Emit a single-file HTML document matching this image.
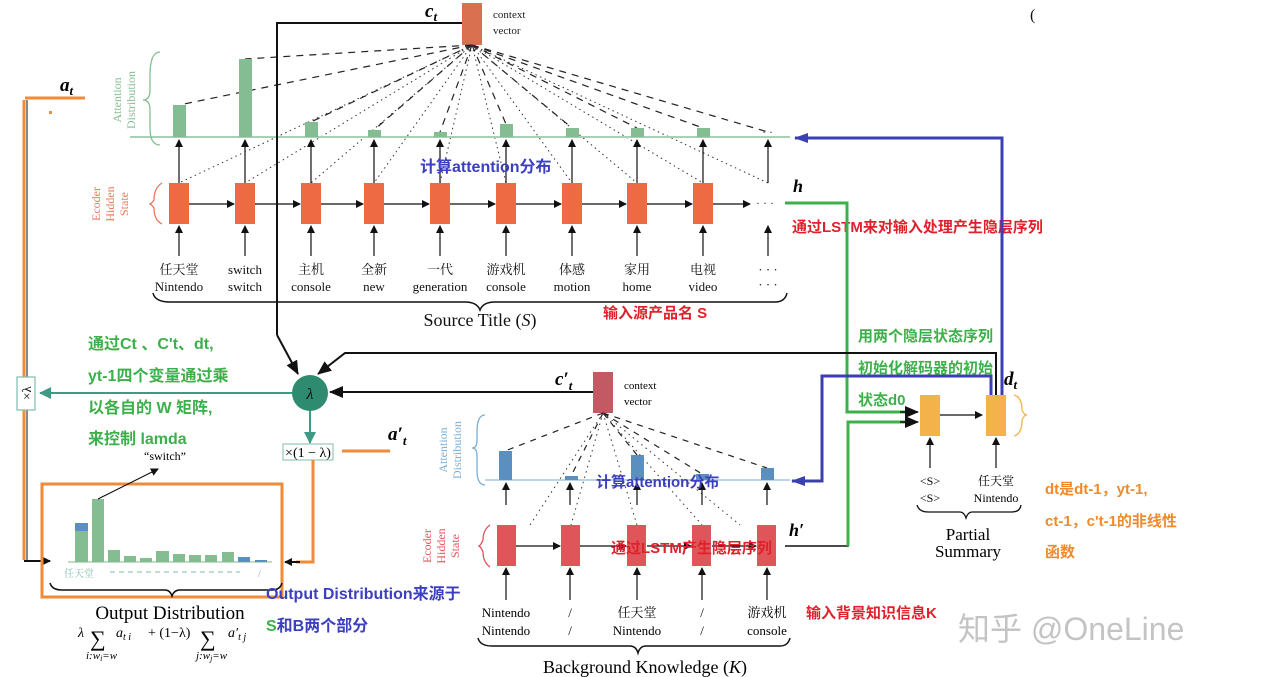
<!DOCTYPE html>
<html><head><meta charset="utf-8"><style>
html,body{margin:0;padding:0;background:#fff;}
svg{display:block;}
.s{font-family:"Liberation Serif","Noto Serif CJK SC",serif;}
.b{font-family:"Liberation Sans","Noto Sans CJK SC",sans-serif;font-weight:bold;}
</style></head><body>
<svg width="1266" height="677" viewBox="0 0 1266 677" xmlns="http://www.w3.org/2000/svg">
<defs>
<marker id="ak" markerWidth="8" markerHeight="8" refX="7" refY="4" orient="auto" markerUnits="userSpaceOnUse"><path d="M0,0 L8,4 L0,8 z" fill="#111"/></marker>
<marker id="at" markerWidth="12" markerHeight="12" refX="11" refY="6" orient="auto" markerUnits="userSpaceOnUse"><path d="M0,0 L12,6 L0,12 z" fill="#3d9a84"/></marker>
<marker id="ab" markerWidth="14" markerHeight="10" refX="13" refY="5" orient="auto" markerUnits="userSpaceOnUse"><path d="M0,0 L14,5 L0,10 z" fill="#3b3fb0"/></marker>
<marker id="ak2" markerWidth="14" markerHeight="12" refX="13" refY="6" orient="auto" markerUnits="userSpaceOnUse"><path d="M0,0 L14,6 L0,12 z" fill="#111"/></marker>
</defs>

<!-- TOP ENCODER -->
<g class="s" font-size="12" fill="#222" text-anchor="middle">
<text x="472" y="18" font-size="11" text-anchor="start" dx="21">context</text>
<text x="472" y="34" font-size="11" text-anchor="start" dx="21">vector</text>
</g>
<text x="425" y="17" class="s" font-size="19" font-style="italic" font-weight="bold">c<tspan font-size="13" dy="4">t</tspan></text>
<rect x="462" y="3" width="20" height="42" fill="#d9704f"/>

<g stroke="#222" stroke-width="1.2" stroke-dasharray="7,6" fill="none">
<line x1="472" y1="45" x2="179" y2="105"/><line x1="472" y1="45" x2="245" y2="59"/>
<line x1="472" y1="45" x2="311" y2="122"/><line x1="472" y1="45" x2="374" y2="130"/>
<line x1="472" y1="45" x2="440" y2="132"/><line x1="472" y1="45" x2="506" y2="124"/>
<line x1="472" y1="45" x2="572" y2="128"/><line x1="472" y1="45" x2="637" y2="128"/>
<line x1="472" y1="45" x2="703" y2="128"/><line x1="472" y1="45" x2="768" y2="132"/>
</g>
<g stroke="#333" stroke-width="1" stroke-dasharray="1.5,3.5" fill="none">
<line x1="472" y1="45" x2="179" y2="183"/><line x1="472" y1="45" x2="245" y2="183"/>
<line x1="472" y1="45" x2="311" y2="183"/><line x1="472" y1="45" x2="374" y2="183"/>
<line x1="472" y1="45" x2="440" y2="183"/><line x1="472" y1="45" x2="506" y2="183"/>
<line x1="472" y1="45" x2="572" y2="183"/><line x1="472" y1="45" x2="637" y2="183"/>
<line x1="472" y1="45" x2="703" y2="183"/><line x1="472" y1="45" x2="768" y2="183"/>
</g>

<line x1="130" y1="137" x2="790" y2="137" stroke="#a9d0b4" stroke-width="2"/>
<g fill="#85bd92">
<rect x="173" y="105" width="13" height="32"/><rect x="239" y="59" width="13" height="78"/>
<rect x="305" y="122" width="13" height="15"/><rect x="368" y="130" width="13" height="7"/>
<rect x="434" y="132" width="13" height="5"/><rect x="500" y="124" width="13" height="13"/>
<rect x="566" y="128" width="13" height="9"/><rect x="631" y="128" width="13" height="9"/>
<rect x="697" y="128" width="13" height="9"/>
</g>
<text x="762" y="136" font-size="12" fill="#333">· ·</text>
<g class="s" font-size="12" fill="#85bd92" text-anchor="middle">
<text transform="translate(121,100) rotate(-90)">Attention</text>
<text transform="translate(135,100) rotate(-90)">Distribution</text>
</g>
<path d="M160,52 Q150,52 150,75 L150,90 Q150,100 143,100 Q150,100 150,110 L150,128 Q150,145 160,145" stroke="#85bd92" fill="none" stroke-width="1.3"/>
<g class="s" font-size="12" fill="#e8785a" text-anchor="middle">
<text transform="translate(100,204) rotate(-90)">Ecoder</text>
<text transform="translate(114,204) rotate(-90)">Hidden</text>
<text transform="translate(128,204) rotate(-90)">State</text>
</g>
<path d="M162,183 Q154,188 154,200 Q152,203 150,204 Q152,205 154,208 Q154,220 162,224" stroke="#e8785a" fill="none" stroke-width="1.3"/>

<g stroke="#111" stroke-width="1.2" marker-end="url(#ak)">
<line x1="179" y1="183" x2="179" y2="140"/><line x1="245" y1="183" x2="245" y2="140"/>
<line x1="311" y1="183" x2="311" y2="140"/><line x1="374" y1="183" x2="374" y2="140"/>
<line x1="440" y1="183" x2="440" y2="140"/><line x1="506" y1="183" x2="506" y2="140"/>
<line x1="572" y1="183" x2="572" y2="140"/><line x1="637" y1="183" x2="637" y2="140"/>
<line x1="703" y1="183" x2="703" y2="140"/><line x1="768" y1="183" x2="768" y2="140"/>
<line x1="179" y1="256" x2="179" y2="226"/><line x1="245" y1="256" x2="245" y2="226"/>
<line x1="311" y1="256" x2="311" y2="226"/><line x1="374" y1="256" x2="374" y2="226"/>
<line x1="440" y1="256" x2="440" y2="226"/><line x1="506" y1="256" x2="506" y2="226"/>
<line x1="572" y1="256" x2="572" y2="226"/><line x1="637" y1="256" x2="637" y2="226"/>
<line x1="703" y1="256" x2="703" y2="226"/><line x1="768" y1="256" x2="768" y2="226"/>
<line x1="189" y1="204" x2="234" y2="204"/><line x1="255" y1="204" x2="300" y2="204"/>
<line x1="321" y1="204" x2="363" y2="204"/><line x1="384" y1="204" x2="429" y2="204"/>
<line x1="450" y1="204" x2="495" y2="204"/><line x1="516" y1="204" x2="561" y2="204"/>
<line x1="582" y1="204" x2="626" y2="204"/><line x1="647" y1="204" x2="692" y2="204"/>
</g>
<line x1="713" y1="204" x2="750" y2="204" stroke="#111" stroke-width="1.2" marker-end="url(#ak)"/>
<text x="756" y="207" font-size="12" fill="#333">· · ·</text>
<g fill="#ee6a42">
<rect x="169" y="183" width="20" height="41"/><rect x="235" y="183" width="20" height="41"/>
<rect x="301" y="183" width="20" height="41"/><rect x="364" y="183" width="20" height="41"/>
<rect x="430" y="183" width="20" height="41"/><rect x="496" y="183" width="20" height="41"/>
<rect x="562" y="183" width="20" height="41"/><rect x="627" y="183" width="20" height="41"/>
<rect x="693" y="183" width="20" height="41"/>
</g>
<g class="s" font-size="13" fill="#111" text-anchor="middle">
<text x="179" y="274">任天堂</text><text x="179" y="291">Nintendo</text>
<text x="245" y="274">switch</text><text x="245" y="291">switch</text>
<text x="311" y="274">主机</text><text x="311" y="291">console</text>
<text x="374" y="274">全新</text><text x="374" y="291">new</text>
<text x="440" y="274">一代</text><text x="440" y="291">generation</text>
<text x="506" y="274">游戏机</text><text x="506" y="291">console</text>
<text x="572" y="274">体感</text><text x="572" y="291">motion</text>
<text x="637" y="274">家用</text><text x="637" y="291">home</text>
<text x="703" y="274">电视</text><text x="703" y="291">video</text>
<text x="768" y="274">· · ·</text><text x="768" y="289">· · ·</text>
</g>
<path d="M153,293 Q155,302 170,302 L465,302 Q477,302 480,310 Q483,302 495,302 L775,302 Q785,302 787,293" stroke="#111" fill="none" stroke-width="1.5"/>
<text x="480" y="326" class="s" font-size="18" text-anchor="middle" fill="#111">Source Title (<tspan font-style="italic">S</tspan>)</text>
<text x="603" y="318" class="b" font-size="15" fill="#e0202a">输入源产品名 S</text>
<text x="420" y="172" class="b" font-size="16" fill="#3b3fc0">计算attention分布</text>
<text x="793" y="192" class="s" font-size="18" font-style="italic" font-weight="bold">h</text>
<text x="792" y="232" class="b" font-size="15" fill="#e0202a">通过LSTM来对输入处理产生隐层序列</text>

<polyline points="462,23 277,23 277,335" stroke="#111" stroke-width="2" fill="none"/>
<line x1="277" y1="335" x2="298" y2="374" stroke="#111" stroke-width="2" marker-end="url(#ak2)"/>

<!-- LEFT -->
<text x="60" y="91" class="s" font-size="19" font-style="italic" font-weight="bold">a<tspan font-size="13" dy="4">t</tspan></text>
<line x1="25" y1="98" x2="85" y2="98" stroke="#ef8b3a" stroke-width="3"/>
<rect x="49" y="111" width="3" height="3" fill="#ef8b3a"/>
<line x1="24" y1="100" x2="24" y2="560" stroke="#ef8b3a" stroke-width="3"/>
<line x1="27" y1="100" x2="27" y2="560" stroke="#111" stroke-width="1"/>
<polyline points="24,561 50,561" stroke="#111" stroke-width="2" fill="none" marker-end="url(#ak)"/>
<rect x="17" y="377" width="18" height="33" fill="#fff" stroke="#7fbcad" stroke-width="1.2"/>
<text transform="translate(31,393) rotate(-90)" class="s" font-size="13" text-anchor="middle">×λ</text>
<line x1="292" y1="393" x2="40" y2="393" stroke="#3d9a84" stroke-width="2" marker-end="url(#at)"/>
<g class="b" font-size="16" fill="#3cb04a">
<text x="88" y="349">通过Ct 、C't、dt,</text>
<text x="88" y="381">yt-1四个变量通过乘</text>
<text x="88" y="413">以各自的 W 矩阵,</text>
<text x="88" y="444">来控制 lamda</text>
</g>
<circle cx="310" cy="393" r="18" fill="#2e8b70"/>
<text x="310" y="399" class="s" font-size="16" font-style="italic" text-anchor="middle" fill="#111">λ</text>
<line x1="310" y1="411" x2="310" y2="443" stroke="#3d9a84" stroke-width="2" marker-end="url(#at)"/>
<rect x="283" y="444" width="50" height="16" fill="#fff" stroke="#7fbcad" stroke-width="1"/>
<text x="308" y="457" class="s" font-size="14" text-anchor="middle">×(1 − λ)</text>
<text x="388" y="440" class="s" font-size="19" font-style="italic" font-weight="bold">a′<tspan font-size="13" dy="5">t</tspan></text>
<line x1="342" y1="451" x2="390" y2="451" stroke="#ef8b3a" stroke-width="3"/>
<polyline points="313,460 313,562 296,562" stroke="#ef8b3a" stroke-width="3" fill="none"/>
<line x1="300" y1="562" x2="285" y2="562" stroke="#111" stroke-width="2" marker-end="url(#ak)"/>

<rect x="42" y="484" width="240" height="113" fill="none" stroke="#ef8b3a" stroke-width="3"/>
<line x1="68" y1="562" x2="272" y2="562" stroke="#a9d0b4" stroke-width="1.5"/>
<g fill="#85bd92">
<rect x="75" y="523" width="13" height="39"/><rect x="92" y="499" width="12" height="63"/>
<rect x="108" y="550" width="12" height="12"/><rect x="124" y="556" width="12" height="6"/>
<rect x="140" y="558" width="12" height="4"/><rect x="156" y="551" width="13" height="11"/>
<rect x="173" y="554" width="12" height="8"/><rect x="189" y="555" width="12" height="7"/>
<rect x="205" y="555" width="12" height="7"/><rect x="222" y="552" width="12" height="10"/>
</g>
<g fill="#5b8fbf"><rect x="75" y="523" width="13" height="8"/><rect x="238" y="557" width="12" height="5"/><rect x="255" y="560" width="12" height="2"/></g>
<line x1="98" y1="499" x2="158" y2="469" stroke="#111" stroke-width="1.2" marker-end="url(#ak)"/>
<text x="165" y="460" class="s" font-size="12" text-anchor="middle">“switch”</text>
<text x="64" y="577" class="s" font-size="10" fill="#7fbcad">任天堂</text>
<line x1="110" y1="572" x2="240" y2="572" stroke="#7fbcad" stroke-width="1" stroke-dasharray="5,4"/>
<text x="258" y="577" class="s" font-size="10" fill="#7fbcad">/</text>
<path d="M50,583 Q52,590 62,590 L165,590 Q170,590 172,596 Q174,590 180,590 L272,590 Q280,590 282,583" stroke="#111" fill="none" stroke-width="1.5"/>
<text x="170" y="619" class="s" font-size="19" text-anchor="middle">Output Distribution</text>
<g class="s" font-size="14" font-style="italic">
<text x="78" y="637">λ</text><text x="90" y="646" font-size="22" font-style="normal">∑</text>
<text x="116" y="637">a<tspan font-size="10" dy="3">t i</tspan></text>
<text x="148" y="637" font-style="normal">+ (1−λ)</text>
<text x="200" y="646" font-size="22" font-style="normal">∑</text>
<text x="228" y="637">a′<tspan font-size="10" dy="3">t j</tspan></text>
<text x="86" y="659" font-size="11">i:w<tspan font-size="8" dy="2">i</tspan><tspan dy="-2">=w</tspan></text>
<text x="196" y="659" font-size="11">j:w<tspan font-size="8" dy="2">j</tspan><tspan dy="-2">=w</tspan></text>
</g>
<text x="266" y="599" class="b" font-size="16" fill="#3b3fc0">Output Distribution来源于</text>
<text x="266" y="631" class="b" font-size="16" fill="#3b3fc0"><tspan fill="#3cb04a">S</tspan>和B两个部分</text>

<!-- BOTTOM ENCODER -->
<text x="555" y="385" class="s" font-size="19" font-style="italic" font-weight="bold">c′<tspan font-size="13" dy="5">t</tspan></text>
<rect x="593" y="372" width="20" height="41" fill="#c25a64"/>
<text x="624" y="389" class="s" font-size="11">context</text>
<text x="624" y="405" class="s" font-size="11">vector</text>
<line x1="593" y1="392" x2="330" y2="392" stroke="#111" stroke-width="2" marker-end="url(#ak2)"/>
<g stroke="#222" stroke-width="1.2" stroke-dasharray="6,6">
<line x1="603" y1="413" x2="505" y2="451"/><line x1="603" y1="413" x2="571" y2="476"/>
<line x1="603" y1="413" x2="637" y2="455"/><line x1="603" y1="413" x2="702" y2="474"/>
<line x1="603" y1="413" x2="767" y2="468"/>
</g>
<g stroke="#333" stroke-width="1" stroke-dasharray="1.5,4">
<line x1="603" y1="413" x2="530" y2="525"/><line x1="603" y1="413" x2="571" y2="525"/>
<line x1="603" y1="413" x2="637" y2="525"/><line x1="603" y1="413" x2="702" y2="525"/>
<line x1="603" y1="413" x2="740" y2="525"/>
</g>
<line x1="485" y1="480" x2="790" y2="480" stroke="#a8c6de" stroke-width="1.5"/>
<g fill="#5b8fbf">
<rect x="499" y="451" width="13" height="29"/><rect x="565" y="476" width="13" height="4"/>
<rect x="631" y="455" width="13" height="25"/><rect x="696" y="474" width="13" height="6"/>
<rect x="761" y="468" width="13" height="12"/>
</g>
<g class="s" font-size="12" fill="#7aaed4" text-anchor="middle">
<text transform="translate(447,450) rotate(-90)">Attention</text>
<text transform="translate(461,450) rotate(-90)">Distribution</text>
</g>
<path d="M485,415 Q477,415 477,432 L477,440 Q477,448 472,448 Q477,448 477,456 L477,470 Q477,485 485,485" stroke="#7aaed4" fill="none" stroke-width="1.3"/>
<g class="s" font-size="12" fill="#e0555a" text-anchor="middle">
<text transform="translate(431,546) rotate(-90)">Ecoder</text>
<text transform="translate(445,546) rotate(-90)">Hidden</text>
<text transform="translate(459,546) rotate(-90)">State</text>
</g>
<path d="M490,525 Q483,530 483,540 Q481,545 479,546 Q481,547 483,552 Q483,562 490,567" stroke="#e0555a" fill="none" stroke-width="1.3"/>
<g stroke="#111" stroke-width="1.2" marker-end="url(#ak)">
<line x1="506" y1="505" x2="506" y2="483"/><line x1="570" y1="505" x2="570" y2="483"/>
<line x1="637" y1="505" x2="637" y2="483"/><line x1="702" y1="505" x2="702" y2="483"/>
<line x1="767" y1="505" x2="767" y2="483"/>
<line x1="506" y1="600" x2="506" y2="568"/><line x1="570" y1="600" x2="570" y2="568"/>
<line x1="637" y1="600" x2="637" y2="568"/><line x1="702" y1="600" x2="702" y2="568"/>
<line x1="767" y1="600" x2="767" y2="568"/>
<line x1="516" y1="546" x2="560" y2="546"/><line x1="580" y1="546" x2="626" y2="546"/>
<line x1="647" y1="546" x2="691" y2="546"/><line x1="712" y1="546" x2="756" y2="546"/>
</g>
<g fill="#e0555a">
<rect x="497" y="525" width="19" height="41"/><rect x="561" y="525" width="19" height="41"/>
<rect x="627" y="525" width="19" height="41"/><rect x="692" y="525" width="19" height="41"/>
<rect x="757" y="525" width="19" height="41"/>
</g>
<g class="s" font-size="13" text-anchor="middle">
<text x="506" y="617">Nintendo</text><text x="506" y="635">Nintendo</text>
<text x="570" y="617">/</text><text x="570" y="635">/</text>
<text x="637" y="617">任天堂</text><text x="637" y="635">Nintendo</text>
<text x="702" y="617">/</text><text x="702" y="635">/</text>
<text x="767" y="617">游戏机</text><text x="767" y="635">console</text>
</g>
<path d="M478,638 Q480,646 492,646 L630,646 Q636,646 638,653 Q640,646 646,646 L780,646 Q788,646 790,638" stroke="#111" fill="none" stroke-width="1.5"/>
<text x="645" y="673" class="s" font-size="18" text-anchor="middle">Background Knowledge (<tspan font-style="italic">K</tspan>)</text>
<text x="596" y="487" class="b" font-size="15" fill="#3b3fc0">计算attention分布</text>
<text x="611" y="553" class="b" font-size="15" fill="#e0202a">通过LSTM产生隐层序列</text>
<text x="789" y="536" class="s" font-size="18" font-style="italic" font-weight="bold">h′</text>
<text x="806" y="618" class="b" font-size="15" fill="#e0202a">输入背景知识信息K</text>

<polyline points="785,546 848,546 848,422 906,422" stroke="#111" stroke-width="1.5" fill="none"/>
<polyline points="785,203 847,203 847,412 906,412" stroke="#3cb04a" stroke-width="3" fill="none"/>
<polyline points="848,546 848,422 906,422" stroke="#3cb04a" stroke-width="3" fill="none"/>
<line x1="900" y1="412" x2="918" y2="412" stroke="#111" stroke-width="1.5" marker-end="url(#ak2)"/>
<line x1="900" y1="422" x2="918" y2="422" stroke="#111" stroke-width="1.5" marker-end="url(#ak2)"/>
<polyline points="996,395 996,353 345,353 318,374" stroke="#111" stroke-width="2" fill="none" marker-end="url(#ak2)"/>
<polyline points="1002,395 1002,138 795,138" stroke="#3b3fb0" stroke-width="3" fill="none" marker-end="url(#ab)"/>
<polyline points="991,395 991,376 822,376 822,481 792,481" stroke="#3b3fb0" stroke-width="3" fill="none" marker-end="url(#ab)"/>
<g class="b" font-size="15" fill="#3cb04a">
<text x="858" y="341">用两个隐层状态序列</text>
<text x="858" y="373">初始化解码器的初始</text>
<text x="858" y="405">状态d0</text>
</g>

<rect x="920" y="395" width="20" height="41" fill="#f3b24a"/>
<rect x="986" y="395" width="20" height="41" fill="#f3b24a"/>
<line x1="940" y1="415" x2="982" y2="415" stroke="#111" stroke-width="1.2" marker-end="url(#ak)"/>
<text x="1004" y="385" class="s" font-size="19" font-style="italic" font-weight="bold">d<tspan font-size="13" dy="4">t</tspan></text>
<path d="M1014,395 Q1022,397 1022,410 Q1024,415 1027,415 Q1024,415 1022,420 Q1022,434 1014,436" stroke="#f3b24a" fill="none" stroke-width="1.3"/>
<g stroke="#111" stroke-width="1.2" marker-end="url(#ak)">
<line x1="930" y1="468" x2="930" y2="438"/><line x1="996" y1="468" x2="996" y2="438"/>
</g>
<g class="s" font-size="12" text-anchor="middle">
<text x="930" y="485">&lt;S&gt;</text><text x="930" y="502">&lt;S&gt;</text>
<text x="996" y="485">任天堂</text><text x="996" y="502">Nintendo</text>
</g>
<path d="M917,505 Q919,512 928,512 L960,512 Q964,512 966,518 Q968,512 972,512 L1012,512 Q1020,512 1021,505" stroke="#111" fill="none" stroke-width="1.3"/>
<text x="968" y="540" class="s" font-size="17" text-anchor="middle">Partial</text>
<text x="968" y="557" class="s" font-size="17" text-anchor="middle">Summary</text>
<g class="b" font-size="15" fill="#f08a2c">
<text x="1045" y="494">dt是dt-1，yt-1,</text>
<text x="1045" y="526">ct-1，c't-1的非线性</text>
<text x="1045" y="557">函数</text>
</g>
<text x="958" y="640" font-family="'Liberation Sans','Noto Sans CJK SC',sans-serif" style="font-weight:normal" font-size="32" fill="#c4c4c4">知乎 @OneLine</text>
<text x="1030" y="20" font-size="16" fill="#111">(</text>
</svg>
</body></html>
